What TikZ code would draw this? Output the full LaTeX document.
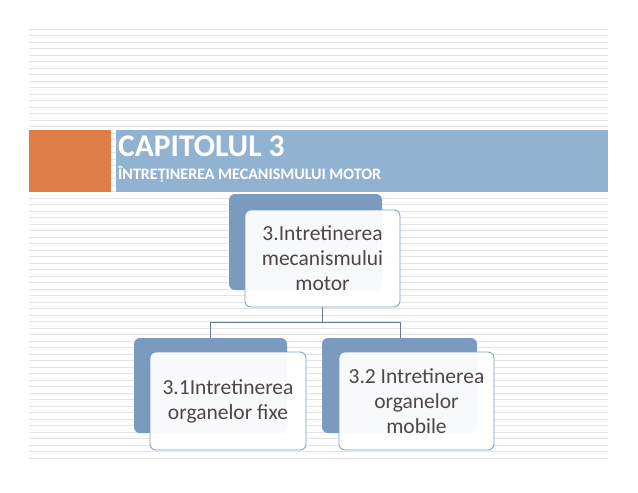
\documentclass[tikz,border=0pt]{standalone}
\usepackage{fontspec}
\setmainfont{Carlito}
\definecolor{bl}{RGB}{146,178,210}
\definecolor{bk}{RGB}{122,155,190}
\definecolor{orng}{RGB}{222,125,70}
\definecolor{txt}{RGB}{80,70,70}
\definecolor{strp}{RGB}{228,228,228}
\tikzset{x=1pt,y=-1pt,
 back/.style={fill=bk,rounded corners=6pt},
 front/.style={fill=white,fill opacity=0.95,text opacity=1,draw=bk,line width=0.8pt,rounded corners=6pt,align=center,text=txt,font=\fontsize{21.5}{25}\selectfont},
 conn/.style={draw=bk!80!black,line width=0.6pt}}
\begin{document}
\begin{tikzpicture}
\useasboundingbox (0,0) rectangle (638,493);
\foreach \i in {0,...,66} \draw[strp,line width=0.6pt] (29,29+\i*6.5) -- (608,29+\i*6.5);
\fill[orng] (29,130) rectangle (111,192);
\fill[bl] (116,130) rectangle (608,192);
\node[anchor=west,text=white,font=\bfseries\fontsize{31.5}{34}\selectfont,inner sep=0pt] (t) at (118,146) {CAPITOLUL 3};
\node[anchor=west,text=white,font=\bfseries\fontsize{16}{18}\selectfont,inner sep=0pt] (s) at (118,174) {ÎNTREȚINEREA MECANISMULUI MOTOR};
\fill[back] (229,194) rectangle (382,290);
\fill[back] (134,338) rectangle (287,433);
\fill[back] (322,338) rectangle (477,433);
\coordinate (j) at (322,322);
\draw[conn] (322,307) -- (j);
\draw[conn] (210,338) -- (210,322) -- (400,322) -- (400,338);
\node[front,minimum width=155pt,minimum height=97pt] (a) at (322.5,258.5) {3.Intretinerea\\mecanismului\\motor};
\node[front,minimum width=156pt,minimum height=98pt] (b) at (228,401) {3.1Intretinerea\\organelor fixe};
\node[front,minimum width=155pt,minimum height=98pt] (c) at (416.5,401) {3.2 Intretinerea\\organelor\\mobile};
\end{tikzpicture}
\end{document}
